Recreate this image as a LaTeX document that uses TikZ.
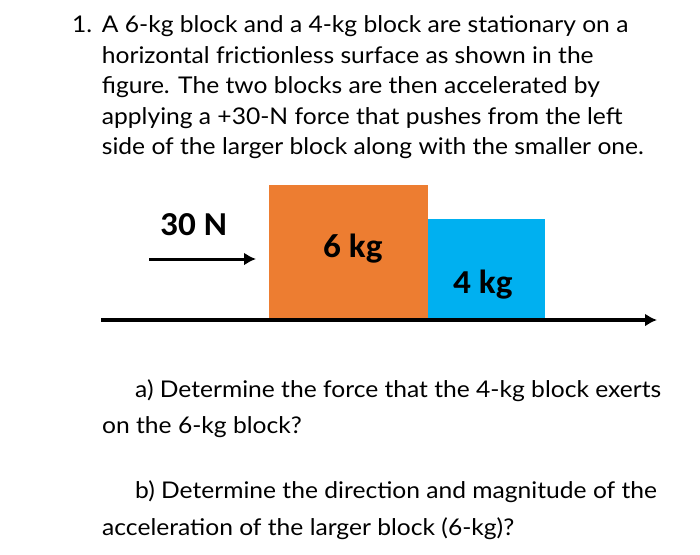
\documentclass[tikz,border=0pt]{standalone}
\usepackage{fontspec}
\setmainfont{Lato}[FakeStretch=1.07]
\newfontfamily\calibrifont{Carlito}[FakeStretch=1.05]
\usepackage{xcolor}
\usepackage{tikz}
\usetikzlibrary{arrows.meta,positioning}

\definecolor{blockorange}{HTML}{ED7D31}
\definecolor{blockblue}{HTML}{00B0F0}

\begin{document}
\begin{tikzpicture}[x=1pt,y=-1pt,>={Latex[length=12pt,width=13pt]},
  txt/.style={anchor=base west,inner sep=0pt,font=\fontsize{23}{27}\selectfont},
  mass/.style={anchor=base west,inner sep=0pt,font=\calibrifont\bfseries\fontsize{33.5}{40}\selectfont},
  block/.style={draw=none,anchor=south west,inner sep=0pt,outer sep=0pt}]
\useasboundingbox (0,0) rectangle (700,554);

% question
\node[txt] (num) at (72,32.7) {1.};
\node[txt] (l1) at (101.7,32.7) {A 6-kg block and a 4-kg block are stationary on a};
\node[txt] (l2) at (101.7,63.3) {horizontal frictionless surface as shown in the};
\node[txt] (l3) at (101.7,93.8) {figure. The two blocks are then accelerated by};
\node[txt] (l4) at (101.7,124.2) {applying a +30-N force that pushes from the left};
\node[txt] (l5) at (101.7,154.6) {side of the larger block along with the smaller one.};

% figure
\node[block,fill=blockorange,minimum width=159pt,minimum height=135pt] (big) at (269,320) {};
\node[block,fill=blockblue,minimum width=117pt,minimum height=101pt] (small) at (big.south east) {};
\node[mass] (m6) at (323,257) {6 kg};
\node[mass] (m4) at (453,293) {4 kg};
\node[mass] (f) at (160,235) {30 N};

\coordinate (f0) at (149,259);
\coordinate (f1) at (256,259);
\draw[->,line width=3pt] (f0) -- (f1);

\coordinate (g0) at (101,320);
\coordinate (g1) at (657,320);
\draw[->,line width=4pt] (g0) -- (g1);

% parts
\node[txt] (a1) at (135,397) {a) Determine the force that the 4-kg block exerts};
\node[txt] (a2) at (102,433) {on the 6-kg block?};
\node[txt] (b1) at (135,498) {b) Determine the direction and magnitude of the};
\node[txt] (b2) at (102,535) {acceleration of the larger block (6-kg)?};
\end{tikzpicture}
\end{document}
